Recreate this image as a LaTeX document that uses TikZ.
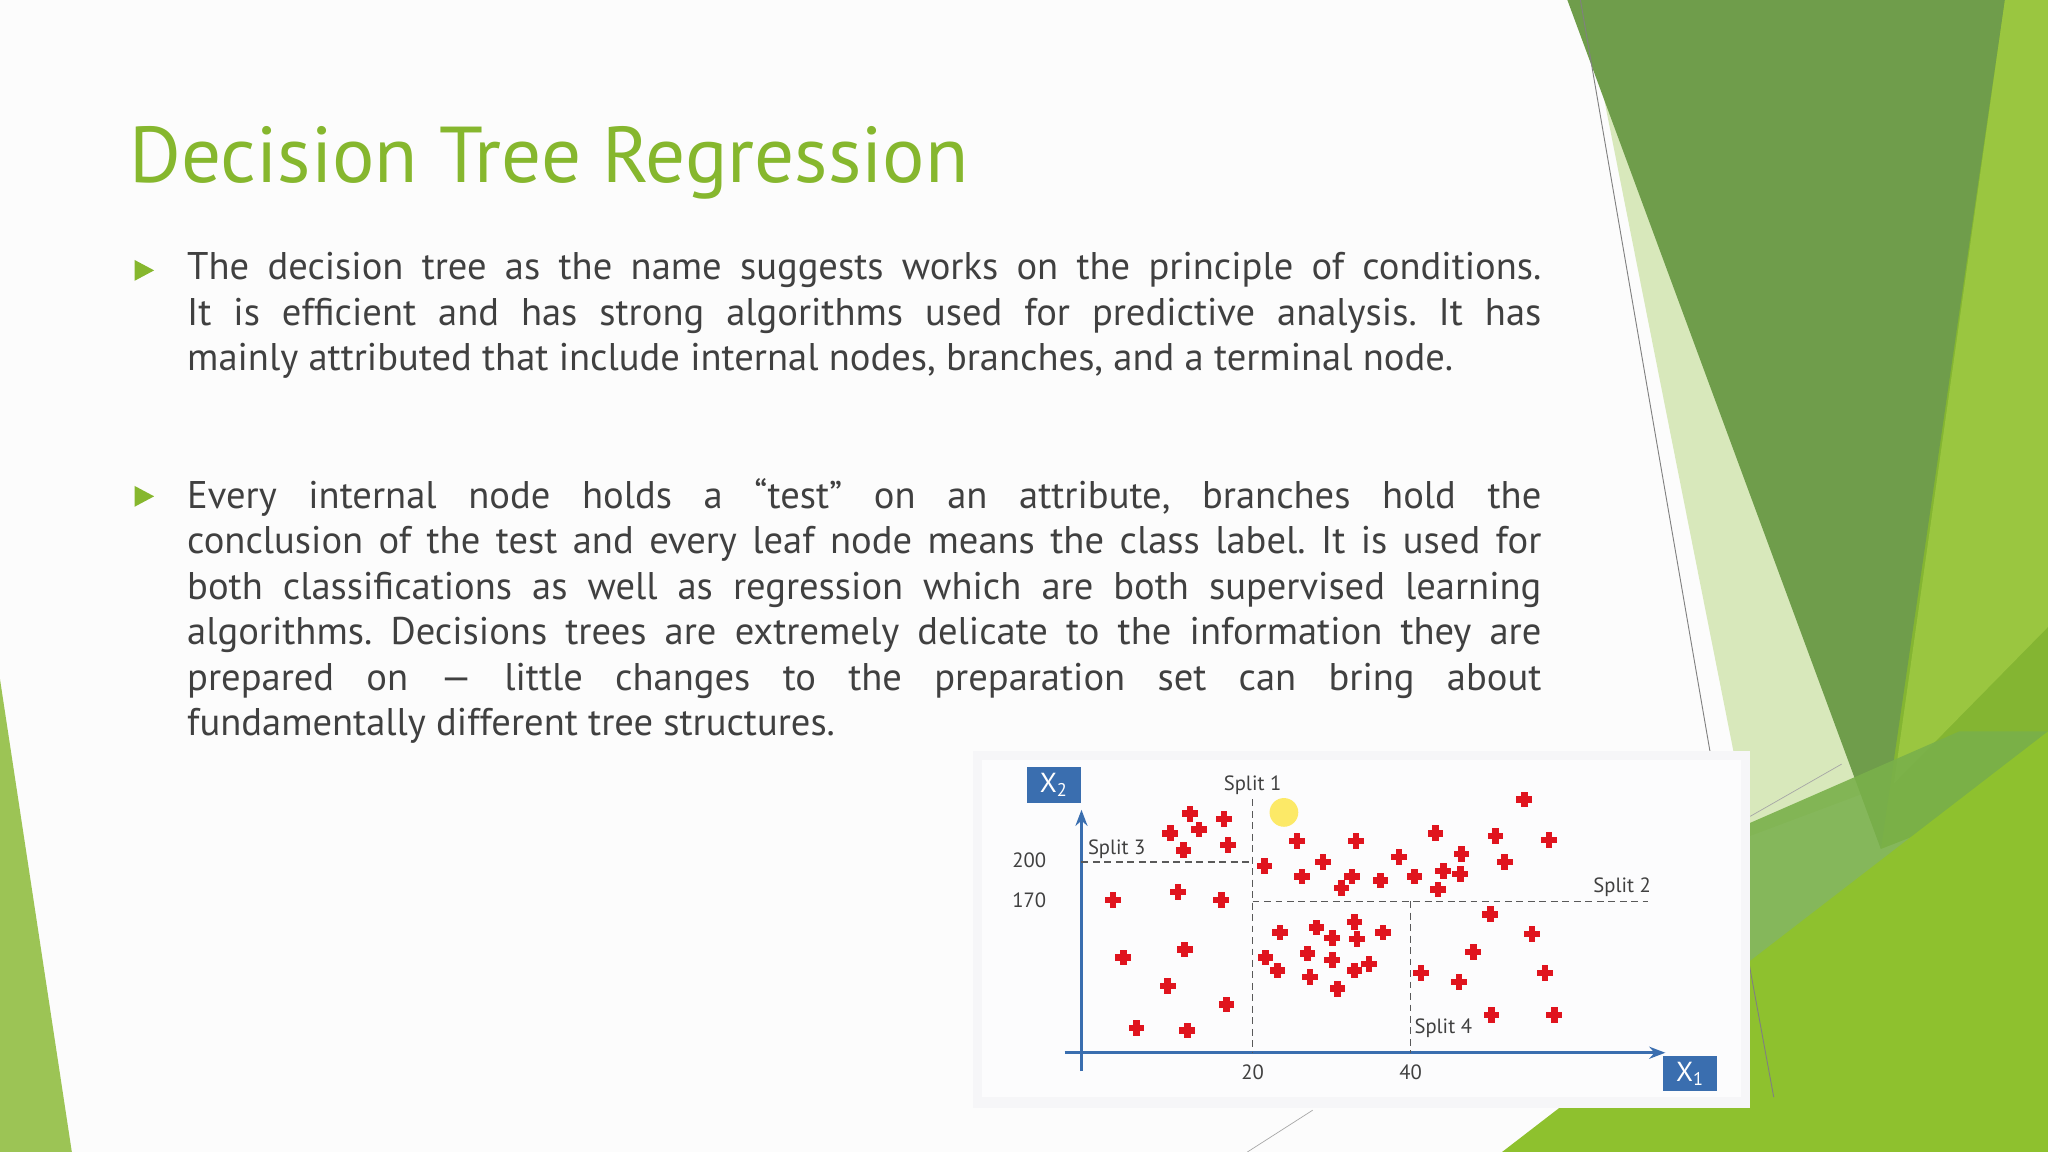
\documentclass[tikz,border=0pt]{standalone}
\usepackage{fontspec}
\setmainfont{PT Sans}
\usetikzlibrary{arrows.meta}
\definecolor{titlegreen}{HTML}{86B72E}
\definecolor{bodygray}{HTML}{404040}
\definecolor{axisblue}{HTML}{3A6EAF}
\definecolor{ptred}{HTML}{E0141E}
\definecolor{paleg}{HTML}{C9E0A0}
\definecolor{darkg}{HTML}{6F9D4B}
\definecolor{midg}{HTML}{84B532}
\definecolor{lightg}{HTML}{9AC640}
\definecolor{bandg}{HTML}{79B04A}
\definecolor{limeg}{HTML}{8EC12E}
\definecolor{plotbg}{HTML}{F6F6F8}
\definecolor{plotin}{HTML}{FCFCFD}
\tikzset{
  ptcross/.pic={\fill[ptred] (-6,-2.5) rectangle (6,2.5); \fill[ptred] (-2.5,-6) rectangle (2.5,6);},
  splitline/.style={gray!70!black, line width=0.6pt, dash pattern=on 3pt off 2pt},
  smalllbl/.style={font=\fontsize{9}{10}\selectfont, text=black!75},
  axisbox/.style={fill=axisblue, text=white, minimum width=0.82cm, minimum height=0.54cm, inner sep=0pt, font=\fontsize{12}{12}\selectfont},
  bodytext/.style={anchor=north west, text width=20.74cm, align=justify, inner sep=0pt, text=bodygray, font=\fontsize{16.8}{19.8}\selectfont},
  bullet/.style={fill=titlegreen}
}
\begin{document}
\frenchspacing
\begin{tikzpicture}[x=0.02cm,y=-0.02cm]
\useasboundingbox (0,0) rectangle (1568,882);
\fill[white!98!gray] (0,0) rectangle (1568,882);
% decoration
\fill[titlegreen!90!white, opacity=0.9] (0,520) -- (55,882) -- (0,882) -- cycle;
\fill[paleg, opacity=0.7] (1225,60) -- (1500,580) -- (1340,640) -- cycle;
\fill[midg] (1420,0) -- (1568,0) -- (1568,600) -- (1440,650) -- cycle;
\fill[darkg] (1200,0) -- (1535,0) -- (1440,650) -- cycle;
\fill[lightg] (1535,0) -- (1568,0) -- (1568,480) -- (1450,600) -- cycle;
\fill[bandg, opacity=0.9] (1340,630) -- (1500,560) -- (1568,560) -- (1568,882) -- (1300,882) -- cycle;
\fill[limeg] (1150,882) -- (1568,560) -- (1568,882) -- cycle;
\draw[gray, line width=0.4pt] (1210,0) -- (1310,580) -- (1358,840);
\draw[gray!70, line width=0.3pt] (1340,625) -- (1410,585);
\draw[gray!70, line width=0.3pt] (955,882) -- (1005,850);
% title
\node[anchor=base west, inner sep=0pt, text=titlegreen, font=\fontsize{34.5}{40}\selectfont] (title) at (99,140) {Decision Tree Regression};
% bullets
\fill[bullet] (103,199) -- (118,207) -- (103,215) -- cycle;
\fill[bullet] (103,372) -- (118,380) -- (103,388) -- cycle;
\node[bodytext] (p1) at (143,193) {The decision tree as the name suggests works on the principle of conditions.\linebreak It is efficient and has strong algorithms used for predictive analysis. It has\linebreak mainly attributed that include internal nodes, branches, and a terminal node.};
\node[bodytext] (p2) at (143,366) {Every internal node holds a “test” on an attribute, branches hold the\linebreak conclusion of the test and every leaf node means the class label. It is used for\linebreak both classifications as well as regression which are both supervised learning\linebreak algorithms. Decisions trees are extremely delicate to the information they are\linebreak prepared on — little changes to the preparation set can bring about\linebreak fundamentally different tree structures.};
% plot
\fill[plotbg] (745,575) rectangle (1340,848);
\fill[plotin] (752,582) rectangle (1333,840);
\fill[yellow!80!orange, opacity=0.6] (983,622) circle (11);
\node[axisbox] (x2) at (807,601) {X\textsubscript{2}};
\node[axisbox] (x1) at (1294,822) {X\textsubscript{1}};
\coordinate (yb) at (828,820); \coordinate (yt) at (828,620);
\coordinate (xl) at (815,806); \coordinate (xr) at (1275,806);
\draw[axisblue, line width=1.4pt, -{Stealth[length=7pt]}] (yb) -- (yt);
\draw[axisblue, line width=1.4pt, -{Stealth[length=7pt]}] (xl) -- (xr);
\draw[splitline] (959,612) -- (959,806);
\draw[splitline] (828,660) -- (959,660);
\draw[splitline] (959,690) -- (1262,690);
\draw[splitline] (1080,690) -- (1080,806);
\node[smalllbl] (s1) at (959,601) {Split 1};
\node[smalllbl] (s3) at (855,650) {Split 3};
\node[smalllbl] (s2) at (1242,679) {Split 2};
\node[smalllbl] (s4) at (1105,787) {Split 4};
\node[smalllbl] (l200) at (788,659) {200};
\node[smalllbl] (l170) at (788,689) {170};
\node[smalllbl] (l20) at (959,821) {20};
\node[smalllbl] (l40) at (1080,821) {40};
\foreach \p in {(911,623),(937,627),(896,638),(918,635),(940,647),(906,651),(852,689),(902,683),(935,689),(860,733),(907,727),(894,755),(939,769),(870,787),(909,789),
(968,663),(993,644),(1013,660),(997,671),(1038,644),(1035,671),(1027,680),(1057,674),(1071,656),(1083,671),(1099,638),(1105,667),(1101,681),(1119,654),(1118,669),(1152,660),(1145,640),(1186,643),(1167,612),(1141,700),
(980,714),(1008,710),(1037,706),(1020,718),(1039,719),(1059,714),(1001,730),(969,733),(1020,735),(1048,738),(978,743),(1003,748),(1037,743),(1024,757),(1088,745),(1117,752),(1128,729),(1173,715),(1183,745),(1142,777),(1190,777)}
  \pic at \p {ptcross};
\end{tikzpicture}
\end{document}
